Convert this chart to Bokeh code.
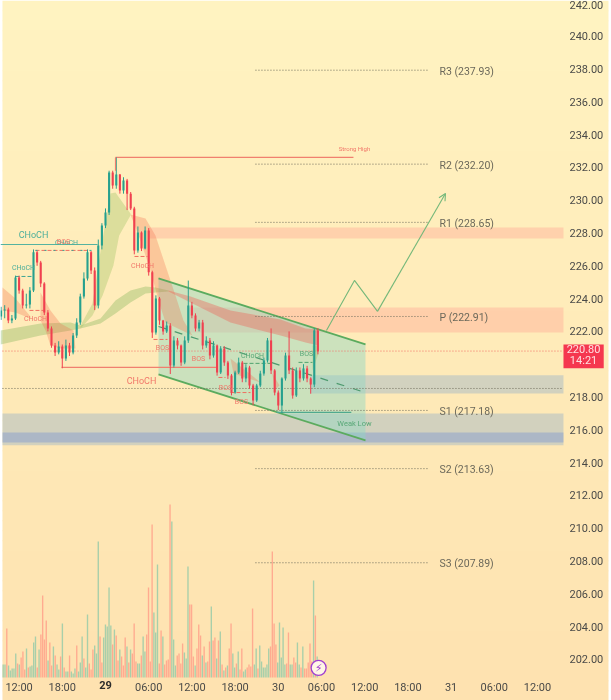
from bokeh.plotting import figure
from bokeh.models import (ColumnDataSource, LinearAxis, FixedTicker, Range1d, NumeralTickFormatter,
                          Arrow, OpenHead)
from bokeh.core.properties import value
from bokeh.embed import file_html
from bokeh.resources import INLINE

FONT = value("Roboto")

# ---- data --------------------------------------------------------------
first_open = 222.91
closes = [223.28,223.34,222.67,222.79,225.29,224.50,223.58,223.64,224.50,226.82,
          226.20,224.92,223.15,222.18,221.14,220.72,221.08,220.35,221.14,220.72,
          221.75,222.54,224.13,225.23,226.82,225.72,223.58,227.24,228.46,229.25,
          231.69,230.90,231.57,230.59,231.20,230.40,229.50,226.94,228.03,227.06,
          228.16,225.60,221.94,224.01,222.67,222.00,222.36,219.92,221.45,221.14,
          220.11,221.45,223.58,222.97,222.18,222.54,221.14,221.45,220.53,221.14,
          219.50,220.96,220.11,219.31,218.27,219.50,220.11,219.13,219.80,218.70,
          217.79,218.70,219.43,220.23,221.45,219.62,218.27,217.48,219.13,220.53,
          219.62,218.09,219.62,219.13,219.74,219.13,218.76,222.06,220.78]
highs = [223.5,223.6,223.45,223.0,225.4,225.4,224.6,224.3,224.7,227.0,
         226.9,226.3,225.0,223.3,222.3,221.3,221.4,221.2,221.5,221.3,
         221.9,222.8,224.3,225.6,227.0,226.9,225.9,227.6,228.6,229.5,
         231.8,231.8,232.61,231.6,231.4,231.3,230.5,229.6,228.4,228.1,
         228.4,228.3,225.7,224.2,224.1,222.7,222.6,222.5,221.7,221.6,
         221.2,221.7,225.1,223.8,223.1,222.7,222.7,221.7,221.6,221.4,
         221.2,221.1,221.1,220.2,219.4,219.6,220.4,220.2,220.0,219.9,
         218.8,218.8,219.6,220.4,221.6,222.18,219.7,218.4,219.2,220.7,
         222.0,219.8,219.8,219.8,220.0,219.9,219.2,222.2,222.2]
lows = [222.7,222.8,222.5,222.5,222.7,224.3,223.4,223.4,223.4,224.4,
        226.0,224.7,223.0,222.0,221.0,220.5,220.6,219.75,220.2,220.5,
        220.6,221.6,222.4,224.0,225.1,225.5,223.3,223.4,227.0,228.3,
        229.1,230.7,230.7,230.4,230.4,229.4,229.4,226.7,226.8,226.9,
        227.0,225.4,221.6,221.8,222.4,221.8,221.9,219.4,219.8,220.9,
        219.9,220.0,221.3,222.8,222.0,222.0,220.9,221.0,220.3,220.4,
        219.3,219.4,219.9,219.1,218.1,218.2,219.4,218.9,218.9,218.5,
        217.5,217.7,218.6,219.3,220.1,219.4,218.1,217.2,217.0,219.0,
        219.4,217.9,218.0,218.9,219.0,218.9,218.2,218.6,220.6]

volumes = [13,13,49,12,7,9,9,24,14,13,
           20,26,8,29,10,11,12,35,41,10,
           28,43,82,38,57,17,35,12,31,22,
           13,8,21,54,10,6,6,22,6,4,
           9,32,6,15,41,19,10,63,14,8,
           28,32,24,136,41,15,40,53,51,90,
           52,33,48,42,17,28,21,12,40,31,
           15,28,24,54,16,14,14,22,41,26,
           43,90,16,153,65,45,113,14,47,41,
           13,17,18,173,
           156,38,12,22,24,14,34,25,19,111,
           73,73,21,12,29,53,42,22,31,15,
           16,36,71,37,40,19,37,46,13,7,
           10,12,29,54,24,10,14,26,8,29,
           6,8,10,13,11,69,13,29,9,32,
           16,10,10,13,29,31,126,54,33,15,
           55,20,50,13,14,45,13,13,20,15,
           35,13,10,31,9,9,15,34,16,97,
           62,21]
volume_side = ("ggrgggggrg" "rrrgrggggr" "grrrrgrrgr" "ggrgrggrgg" "grgggrggrr"
               "rgggrrgggg" "grgrrgrrrg" "rgrrrggrgg" "rrrrgggrrg" "rrrr"
               "gggrrrrggg" "rrrgrrrgrg" "rrgrrgrgrg" "rgrrggrgrr" "ggrrrrggrg"
               "gggggrrrrg" "ggggrrggrr" "ggrgrrrrrg" "rg")

pivot_names = ["R3", "R2", "R1", "P", "S1", "S2", "S3"]
pivot_levels = [237.93, 232.20, 228.65, 222.91, 217.18, 213.63, 207.89]
last_price = 220.80
countdown = "14:21"
price_ticks = [202,204,206,208,210,212,214,216,218,222,224,226,228,230,232,234,236,238,240,242]
time_ticks = {12:"12:00", 18:"18:00", 30:"06:00", 36:"12:00", 42:"18:00", 48:"30",
              54:"06:00", 60:"12:00", 66:"18:00", 72:"31", 78:"06:00", 84:"12:00"}

zone_left  = [29.97, 35.40, 52.47, 9.69, 9.69]
zone_right = [87.61, 87.61, 87.61, 87.61, 87.61]
zone_top   = [228.34, 223.46, 219.32, 217.00, 215.84]
zone_bot   = [227.67, 221.94, 218.22, 215.05, 215.23]
zone_color = ["#ff968c", "#ff968c", "#6e9bd2", "#6e9bd2", "#6e8fd2"]
zone_alpha = [0.32, 0.32, 0.30, 0.30, 0.38]

channel_x = [31.36, 60.11, 60.11, 31.36]
channel_y = [225.23, 221.21, 215.35, 219.38]
mid_x = [31.36, 60.11]
mid_y = [222.30, 218.27]

slow_x = [9.42,14.97,19.14,20.53,23.31,25.39,27.47,29.56,30.94,32.75]
slow_top = [222.06,222.48,222.54,222.36,222.79,223.89,224.50,224.74,224.68,224.50]
slow_bot = [221.20,221.75,222.06,222.18,222.48,223.09,223.76,224.31,224.37,224.43]
slow2_x = [32.75,35.81,41.36,48.31,51.78,53.58]
slow2_top = [224.50,224.13,223.28,222.73,222.18,222.12]
slow2_bot = [224.43,223.76,222.54,221.75,221.32,221.14]

rib_a_x = [9.69,11.5,13.58,13.58,11.5,9.69]
rib_a_y = [224.68,224.01,222.91,222.79,223.15,223.28]
rib_b_x = [14.97,16.36,17.75,19.56,19.83,17.75,16.36,15.67,14.97]
rib_b_y = [224.37,223.28,222.48,222.06,220.96,220.96,221.14,222.06,222.67]
rib_c_x = [20.53,22.19,23.03,24.28,24.69,25.39,27.47,27.47,25.9,25.1,23.6,22.19,20.53]
rib_c_y = [222.36,223.70,226.14,229.37,230.41,230.47,229.19,229.07,227.85,226.02,224.19,222.97,222.18]
rib_d_x = [27.47,29.56,30.94,32.33,33.72,34.83,36.08,32.33,31.36,30.25,28.86]
rib_d_y = [229.13,228.89,227.85,226.02,224.19,222.67,221.75,222.54,223.89,225.72,227.54]
rib_e_x = [41.36,45.53,41.78]
rib_e_y = [220.35,218.89,219.43]
rib_f_x = [47.19,48.17,47.47]
rib_f_y = [219.43,218.70,218.40]
rib_g_x = [52.75,53.58,53.58,52.75]
rib_g_y = [221.14,221.14,220.64,219.62]

forecast_x = [54.69, 58.58, 61.78, 71.22]
forecast_y = [222.06, 225.11, 223.22, 230.41]

swing_x0 = [25.39, 17.89, 47.75, 9.42]
swing_x1 = [58.44, 39.53, 58.14, 22.9]
swing_y  = [232.61, 219.80, 217.06, 227.30]
swing_c  = ["#f0806f", "#f0806f", "#4fa98f", "#55b3a0"]

dash_x0 = [14.28, 11.5, 13.44, 28.03, 30.67, 39.69, 41.36, 43.17, 50.81]
dash_x1 = [21.64, 14.0, 15.39, 29.83, 32.61, 40.67, 44.14, 47.33, 52.75]
dash_y  = [226.94, 225.35, 223.28, 226.57, 221.51, 219.19, 218.27, 220.05, 220.11]
dash_c  = ["#ef6f60", "#3da493", "#ef6f60", "#ef6f60", "#ef6f60", "#ef6f60", "#ef6f60", "#4fa36f", "#4fa36f"]

RED, TEAL, GRN = "#f1786a", "#4aae9a", "#58a877"
tag_text = ["CHoCH","CHoCH","BOS","CHoCH","CHoCH","CHoCH","BOS","BOS","BOS","BOS","CHoCH","BOS","Weak Low","Strong High","CHoCH"]
tag_x = [14.0,18.58,18.17,12.61,14.28,29.14,31.92,36.92,40.67,42.89,44.42,51.92,58.58,58.58,29.0]
tag_y = [227.85,227.42,227.48,225.84,222.73,225.96,220.96,220.29,218.52,217.67,220.53,220.65,216.39,233.15,218.95]
tag_c = [TEAL,TEAL,RED,TEAL,RED,RED,RED,RED,RED,RED,GRN,GRN,GRN,RED,RED]
tag_s = ["9px","7px","7px","7px","7px","7px","7px","7px","7px","7px","7px","7px","7.5px","6px","9px"]

# ---- figure --------------------------------------------------------------
p = figure(width=611, height=700, output_backend="svg", toolbar_location=None,
           x_range=Range1d(9.417, 94.28), y_range=Range1d(199.49, 242.18),
           x_axis_location=None, y_axis_location=None, min_border=0, outline_line_color=None,
           background_fill_color="white", border_fill_color="white",
           styles={"position": "fixed", "left": "0px", "top": "0px"})
p.grid.visible = False
p.extra_y_ranges = {"vol": Range1d(-23, 677)}

# page gradient
N = 70
c0, c1 = (255, 243, 193), (254, 226, 176)
for k in range(N):
    f = k / (N - 1)
    col = "#%02x%02x%02x" % tuple(round(c0[j] + (c1[j] - c0[j]) * f) for j in range(3))
    top = 242.18 - 42.69 * k / N
    p.quad(left=9.69, right=93.86, top=top, bottom=top - 42.69 / N - 0.05, fill_color=col, line_color=None)

# volume
n_v = len(volumes)
vol_hours = [53.4 - 0.2492 * (n_v - 1 - i) for i in range(n_v)]
vol_cols = ["#a8cfaa" if s == "g" else "#ffab90" for s in volume_side]
p.vbar(x=vol_hours, top=volumes, bottom=0, width=0.19, fill_color=vol_cols, line_color=None, y_range_name="vol")

# zones
p.quad(left=zone_left, right=zone_right, top=zone_top, bottom=zone_bot,
       fill_color=zone_color, fill_alpha=zone_alpha, line_color=None)

# channel
p.patch(channel_x, channel_y, fill_color="#8ed8c4", fill_alpha=0.45, line_color=None)

# ribbons
p.varea(x=slow_x, y1=slow_top, y2=slow_bot, fill_color="#82b45a", fill_alpha=0.36)
p.varea(x=slow2_x, y1=slow2_top, y2=slow2_bot, fill_color="#f05a50", fill_alpha=0.36)
ORANGE = "#f26446"
p.patch(rib_a_x, rib_a_y, fill_color=ORANGE, fill_alpha=0.28, line_color=None)
p.patch(rib_b_x, rib_b_y, fill_color=ORANGE, fill_alpha=0.28, line_color=None)
p.patch(rib_c_x, rib_c_y, fill_color="#96be5a", fill_alpha=0.33, line_color=None)
p.patch(rib_d_x, rib_d_y, fill_color=ORANGE, fill_alpha=0.28, line_color=None)
p.patch(rib_e_x, rib_e_y, fill_color=ORANGE, fill_alpha=0.28, line_color=None)
p.patch(rib_f_x, rib_f_y, fill_color=ORANGE, fill_alpha=0.28, line_color=None)
p.patch(rib_g_x, rib_g_y, fill_color="#96be5a", fill_alpha=0.3, line_color=None)

# channel borders
p.line([channel_x[0], channel_x[1]], [channel_y[0], channel_y[1]], line_color="#5bab5e", line_width=1.8)
p.line([channel_x[3], channel_x[2]], [channel_y[3], channel_y[2]], line_color="#5bab5e", line_width=1.8)
p.line(mid_x, mid_y, line_color="#4d9a6e", line_width=1.2, line_dash="8 9")

# dotted levels
p.segment(x0=44.83, x1=68.72, y0=pivot_levels, y1=pivot_levels, line_color="#6f6d5c", line_width=1, line_dash="1 2")
p.segment(x0=9.69, x1=87.61, y0=218.52, y1=218.52, line_color="#6f6d5c", line_width=1, line_dash="1 2")
p.segment(x0=9.69, x1=87.61, y0=last_price, y1=last_price, line_color="#f26f66", line_width=1, line_dash="1 2")

# swing lines
p.segment(x0=swing_x0, x1=swing_x1, y0=swing_y, y1=swing_y, line_color=swing_c, line_width=1.2)
p.segment(x0=dash_x0, x1=dash_x1, y0=dash_y, y1=dash_y, line_color=dash_c, line_width=1, line_dash="4 2")
p.segment(x0=14.28, x1=22.9, y0=226.94, y1=226.94, line_color="#3da493", line_width=1, line_dash="2 7")

# candles
opens = [first_open] + closes[:-1]
hours = [9.5 + 0.5 * i for i in range(len(closes))]
cols = ["#26a08e" if c >= o else "#f0404f" for o, c in zip(opens, closes)]
src = ColumnDataSource(dict(x=hours, o=opens, c=closes, h=highs, l=lows, col=cols))
p.segment(x0="x", x1="x", y0="l", y1="h", line_color="col", line_width=1, source=src)
p.vbar(x="x", top="o", bottom="c", width=0.29, fill_color="col", line_color=None, source=src)
p.segment(x0=25.39, x1=25.39, y0=231.8, y1=232.61, line_color="#f0806f", line_width=1.2)

# forecast
p.line(forecast_x[:3], forecast_y[:3], line_color="#74b87a", line_width=1.1)
p.add_layout(Arrow(end=OpenHead(size=7, line_color="#74b87a", line_width=1.1),
                   x_start=forecast_x[2], y_start=forecast_y[2], x_end=forecast_x[3], y_end=forecast_y[3],
                   line_color="#74b87a", line_width=1.1))

# texts
p.text(x=tag_x, y=tag_y, text=tag_text, text_color=tag_c, text_font_size=tag_s, text_font=FONT,
       text_align="center", text_baseline="middle")
p.text(x=[70.39] * 7, y=[v - 0.07 for v in pivot_levels],
       text=["%s (%.2f)" % t for t in zip(pivot_names, pivot_levels)],
       text_color="#6b685a", text_font_size="10.5px", text_font=FONT, text_baseline="middle")

# last price tag
p.quad(left=87.61, right=93.2, top=221.2, bottom=219.75, fill_color="#f5374f", line_color=None)
p.text(x=[90.4, 90.4], y=[220.92, 220.25], text=["%.2f" % last_price, countdown], text_color="#ffdfe0",
       text_font_size="11px", text_font=FONT, text_align="center", text_baseline="middle")

# volume badge
p.scatter(x=[53.6], y=[201.48], size=15, marker="circle", fill_color="#fff6e6", line_color="#a03fd0", line_width=1.3)
p.text(x=[53.6], y=[201.45], text=["\u26a1"], text_color="#a03fd0", text_font_size="11px",
       text_font=value("DejaVu Sans"), text_align="center", text_baseline="middle")

# axes
def clean(ax, size, color="#4a4a48", standoff=4):
    ax.axis_line_color = None
    ax.major_tick_line_color = None
    ax.minor_tick_line_color = None
    ax.major_label_text_font = "Roboto"
    ax.major_label_text_font_size = size
    ax.major_label_text_color = color
    ax.major_label_standoff = standoff

yax = LinearAxis(ticker=FixedTicker(ticks=price_ticks), formatter=NumeralTickFormatter(format="0.00"),
                 fixed_location=87.61)
clean(yax, "11px", standoff=0)
p.add_layout(yax, "right")

xax = LinearAxis(ticker=FixedTicker(ticks=list(time_ticks)), major_label_overrides=time_ticks, fixed_location=201.26)
clean(xax, "11px", standoff=4)
p.add_layout(xax, "below")

xax2 = LinearAxis(ticker=FixedTicker(ticks=[24]), major_label_overrides={24: "29"}, fixed_location=201.26)
clean(xax2, "11px", color="#2d2d2b", standoff=4)
xax2.major_label_text_font_style = "bold"
p.add_layout(xax2, "below")

open("out.html", "w").write(file_html(p, INLINE))
